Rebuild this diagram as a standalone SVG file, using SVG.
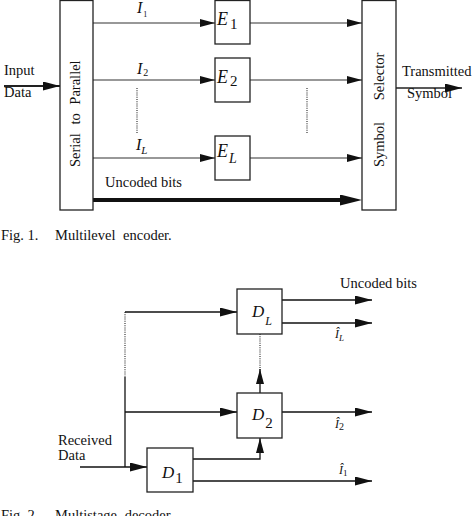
<svg xmlns="http://www.w3.org/2000/svg" width="474" height="516" viewBox="0 0 474 516">
<style>
.t{font-family:"Liberation Serif","Times New Roman",serif;font-size:14.5px;fill:#111}
.i{font-style:italic}
.box{fill:#fff;stroke:#222;stroke-width:1.3}
.ln{fill:none;stroke:#333;stroke-width:1.1}
.bl{fill:none;stroke:#111;stroke-width:1.3}
.dot{fill:none;stroke:#222;stroke-width:1.1;stroke-dasharray:1 1.2}
</style>
<defs>
<marker id="a" markerUnits="userSpaceOnUse" markerWidth="15" markerHeight="8" refX="15" refY="4" orient="auto"><path d="M0,0 L15,4 L0,8 z" fill="#111"/></marker>
<marker id="a2" markerUnits="userSpaceOnUse" markerWidth="17" markerHeight="9" refX="17" refY="4.5" orient="auto"><path d="M0,0 L17,4.5 L0,9 z" fill="#111"/></marker>
<marker id="a3" markerUnits="userSpaceOnUse" markerWidth="22" markerHeight="11" refX="12" refY="5.5" orient="auto"><path d="M0,0 L22,5.5 L0,11 z" fill="#111"/></marker>
</defs>

<!-- Fig 1 -->
<g id="connectors1">
<line x1="4" y1="86" x2="60" y2="86" stroke="#222" stroke-width="2.2" marker-end="url(#a2)"/>
<line class="ln" x1="93" y1="23" x2="215" y2="23" marker-end="url(#a)"/>
<line class="ln" x1="93" y1="80" x2="215" y2="80" marker-end="url(#a)"/>
<line class="ln" x1="93" y1="158" x2="215" y2="158" marker-end="url(#a)"/>
<line class="ln" x1="250" y1="23" x2="362" y2="23" marker-end="url(#a)"/>
<line class="ln" x1="250" y1="80" x2="362" y2="80" marker-end="url(#a)"/>
<line class="ln" x1="250" y1="158" x2="362" y2="158" marker-end="url(#a)"/>
<line x1="93" y1="200" x2="352" y2="200" stroke="#111" stroke-width="4" marker-end="url(#a3)"/>
<line x1="396" y1="88" x2="462" y2="88" stroke="#222" stroke-width="1.5" marker-end="url(#a2)"/>
<line class="dot" x1="137" y1="88" x2="137" y2="133"/>
<line class="dot" x1="307" y1="88" x2="307" y2="133"/>
</g>
<g id="s2p">
<rect class="box" x="60" y="0.5" width="33" height="209.5"/>
<text class="t" transform="translate(80,167) rotate(-90)" font-size="15" word-spacing="5">Serial to Parallel</text>
</g>
<g id="selector">
<rect class="box" x="362" y="0.5" width="34" height="209.5"/>
<text class="t" transform="translate(384,167) rotate(-90)" word-spacing="18">Symbol Selector</text>
</g>
<g id="E1"><rect class="box" x="215" y="0.5" width="35" height="43.5"/>
<text class="t" x="217" y="25"><tspan class="i" font-size="18">E</tspan><tspan font-size="15" dx="2" dy="4">1</tspan></text></g>
<g id="E2"><rect class="box" x="215" y="58" width="35" height="44"/>
<text class="t" x="217" y="83"><tspan class="i" font-size="18">E</tspan><tspan font-size="15" dx="2" dy="3">2</tspan></text></g>
<g id="EL"><rect class="box" x="215" y="136" width="35" height="44"/>
<text class="t" x="217" y="157"><tspan class="i" font-size="18">E</tspan><tspan class="i" font-size="14" dx="1" dy="6">L</tspan></text></g>
<text class="t" x="4" y="75">Input</text>
<text class="t" x="4" y="97">Data</text>
<text class="t" x="137" y="13"><tspan class="i" font-size="16">I</tspan><tspan font-size="8" dx="1" dy="4">1</tspan></text>
<text class="t" x="137" y="74"><tspan class="i" font-size="16">I</tspan><tspan font-size="10" dx="1" dy="2">2</tspan></text>
<text class="t" x="136" y="150"><tspan class="i" font-size="16">I</tspan><tspan class="i" font-size="11" dx="0" dy="4">L</tspan></text>
<text class="t" x="105" y="187">Uncoded bits</text>
<text class="t" x="402" y="76">Transmitted</text>
<text class="t" x="407" y="98">Symbol</text>
<text class="t" x="1" y="240">Fig. 1.</text>
<text class="t" x="55" y="240" word-spacing="4">Multilevel encoder.</text>

<!-- Fig 2 -->
<g id="connectors2">
<line class="dot" x1="125" y1="312" x2="125" y2="377"/>
<line class="bl" x1="125" y1="377" x2="125" y2="467"/>
<line class="bl" x1="125" y1="312" x2="237" y2="312" marker-end="url(#a2)"/>
<line class="bl" x1="125" y1="412" x2="237" y2="412" marker-end="url(#a2)"/>
<line class="bl" x1="80" y1="467" x2="147" y2="467" marker-end="url(#a2)"/>
<polyline class="bl" points="193,459 260,459 260,438" marker-end="url(#a)"/>
<line class="bl" x1="193" y1="481" x2="372" y2="481" marker-end="url(#a2)"/>
<line class="bl" x1="282" y1="300" x2="372" y2="300" marker-end="url(#a2)"/>
<line class="bl" x1="282" y1="323" x2="372" y2="323" marker-end="url(#a2)"/>
<line class="bl" x1="282" y1="412" x2="372" y2="412" marker-end="url(#a2)"/>
<line class="dot" x1="260" y1="334" x2="260" y2="370"/>
<line class="bl" x1="260" y1="393" x2="260" y2="369" marker-end="url(#a)"/>
</g>
<g id="DL"><rect class="box" x="237" y="289" width="45" height="45" stroke="#111"/>
<text class="t" x="252" y="317"><tspan class="i" font-size="17">D</tspan><tspan class="i" font-size="12" dx="1" dy="8">L</tspan></text></g>
<g id="D2"><rect class="box" x="237" y="393" width="45" height="45" stroke="#111"/>
<text class="t" x="252" y="420"><tspan class="i" font-size="17">D</tspan><tspan font-size="15" dx="1" dy="8">2</tspan></text></g>
<g id="D1"><rect class="box" x="147" y="448" width="46" height="44" stroke="#111"/>
<text class="t" x="162" y="478"><tspan class="i" font-size="17">D</tspan><tspan font-size="15" dx="1" dy="5">1</tspan></text></g>
<text class="t" x="58" y="445" font-size="14">Received</text>
<text class="t" x="58" y="460" font-size="14">Data</text>
<text class="t" x="340" y="288">Uncoded bits</text>
<text class="t" x="335" y="338"><tspan class="i" font-size="12">Î</tspan><tspan class="i" font-size="9" dy="3">L</tspan></text>
<text class="t" x="335" y="428"><tspan class="i" font-size="12">Î</tspan><tspan font-size="10" dy="2">2</tspan></text>
<text class="t" x="339" y="474"><tspan class="i" font-size="12">Î</tspan><tspan font-size="9" dy="2">1</tspan></text>
<text class="t" x="1" y="520">Fig. 2.</text>
<text class="t" x="55" y="520" word-spacing="4">Multistage decoder.</text>
</svg>
